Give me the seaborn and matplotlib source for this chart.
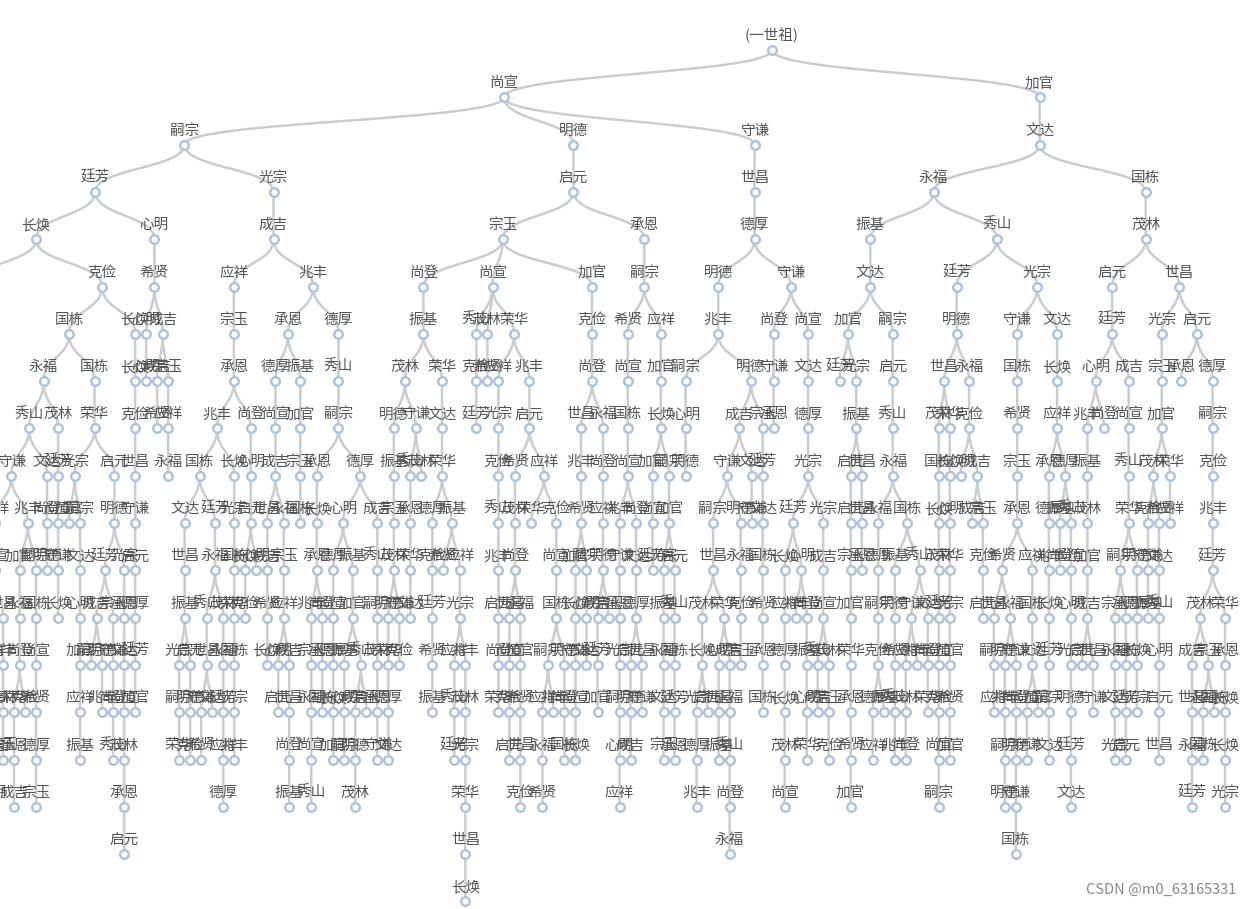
import numpy as np
import pandas as pd
import seaborn as sns
import matplotlib.pyplot as plt
from matplotlib.path import Path
from matplotlib.patches import PathPatch

# children count of every node, level by level (level order), one digit per node
level_children = [
    "2",
    "31",
    "2112",
    "212121",
    "212312122",
    "1221213121221212",
    "12112121211211121121211212",
    "1211011211121101121112110112111211011211121101121112110112111211011211",
    "1212101211121210121112121012111212101211121210121112121012111212101211",
    "1211211021121121102112112110211211211021121121102112112110211211211021121121102112112110211211",
    "1121101211112110121111211012111121101211112110121111211012111121101211112110121111211012111121",
    "1211011211121101121112110112111211011211121101121112110112111211011211121101121112110112111211",
    "1211101211121110121112111012111211101211121110121112111012111211101211121110121112111012111211",
    "1111211011111121101111112110111111211011111121101111112110111111211011111121101111112110111111",
    "1011101101101110110110111011011011101101101110110110111011011011101101101110110110111011011011",
    "0101100100010110010001011001000101100100010110010001011001000101100100010110010001011001000101",
    "0001000010000100001000010000100001000010000100001000010000100001",
    "0100",
]
root_label = "(一世祖)"
name_pool = ["尚登", "尚宣", "加官", "嗣宗", "明德", "守谦", "文达", "廷芳", "光宗",
             "启元", "世昌", "永福", "国栋", "长焕", "心明", "成吉", "宗玉", "承恩",
             "德厚", "振基", "秀山", "茂林", "荣华", "克俭", "希贤", "应祥", "兆丰"]

sns.set_style("white")
plt.rcParams['font.family'] = ['Noto Sans CJK SC', 'DejaVu Sans']

# build tree
parents = [None]
levels = [0]
nodes_by_level = [[0]]
for lv, digits in enumerate(level_children):
    cur = nodes_by_level[lv]
    digits = digits[:len(cur)].ljust(len(cur), "0")
    nxt = []
    for n, d in zip(cur, digits):
        for _ in range(int(d)):
            parents.append(n)
            levels.append(lv + 1)
            nxt.append(len(parents) - 1)
    nodes_by_level.append(nxt)
    if not nxt:
        break

kids = {i: [] for i in range(len(parents))}
for i, p in enumerate(parents):
    if p is not None:
        kids[p].append(i)

xs = {}
counter = [0]
def place(n):
    if not kids[n]:
        xs[n] = counter[0]
        counter[0] += 1
    else:
        for c in kids[n]:
            place(c)
        xs[n] = np.mean([xs[c] for c in kids[n]])
place(0)

span = max(counter[0] - 1, 1)
px = {n: -30 + 1255 * xs[n] / span for n in xs}
py = {n: 50 + 47.3 * levels[n] for n in xs}

fig = plt.figure(figsize=(12.52, 9.09), dpi=100)
ax = fig.add_axes([0, 0, 1, 1])

for n, p in enumerate(parents):
    if p is None:
        continue
    x0, y0, x1, y1 = px[p], py[p], px[n], py[n]
    ym = (y0 + y1) / 2
    path = Path([(x0, y0), (x0, ym), (x1, ym), (x1, y1)],
                [Path.MOVETO, Path.CURVE4, Path.CURVE4, Path.CURVE4])
    ax.add_patch(PathPatch(path, fill=False, edgecolor="#cccccc", lw=1.8, zorder=1))

df = pd.DataFrame({"x": [px[n] for n in xs], "y": [py[n] for n in xs]})
sns.scatterplot(data=df, x="x", y="y", ax=ax, s=38, color="white",
                edgecolor="#b0c4de", linewidth=1.8, zorder=3, legend=False)
ax.set_xlim(0, 1252)
ax.set_ylim(909, 0)
ax.axis("off")

for n in xs:
    label = root_label if n == 0 else name_pool[n % len(name_pool)]
    ax.text(px[n], py[n] - 7, label, ha="center", va="bottom", fontsize=10.5,
            color="#555555", zorder=4)

ax.text(1236, 890, "CSDN @m0_63165331", ha="right", va="center",
        fontsize=10.5, color="#888888")

fig.savefig("out.png", dpi=100)
